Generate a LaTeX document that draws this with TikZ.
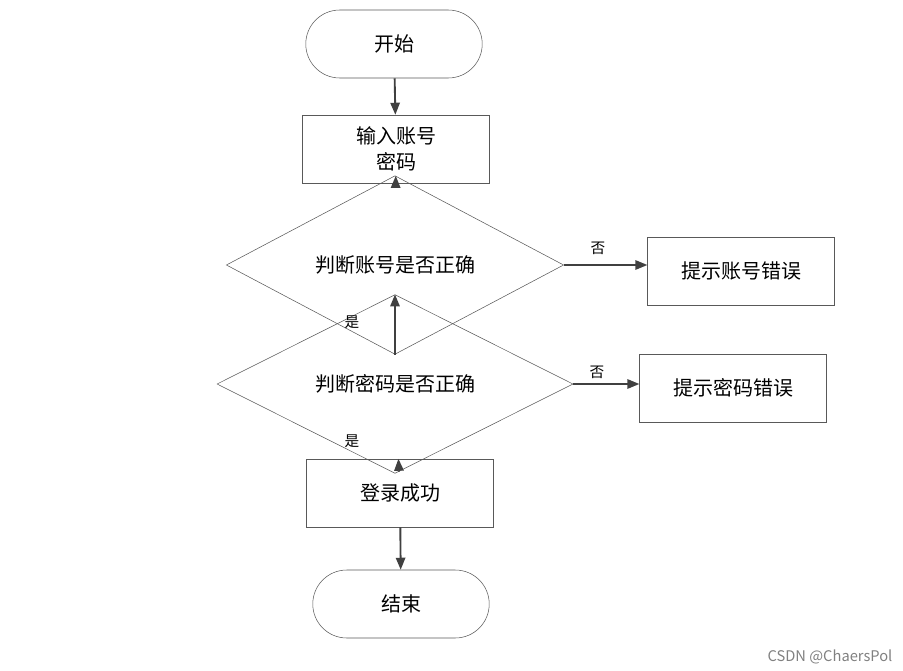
\documentclass[tikz,border=0pt]{standalone}
\usepackage{fontspec}
\setmainfont{Noto Sans CJK SC}
\usetikzlibrary{shapes.geometric,shapes.misc,arrows.meta}
\begin{document}
\begin{tikzpicture}[x=0.75pt,y=-0.75pt, font=\fontsize{15}{19}\selectfont,
  term/.style={rounded rectangle, draw=gray!70!black, minimum width=139pt, minimum height=51pt},
  proc/.style={rectangle, draw=gray!70!black, minimum width=140pt, minimum height=51pt, align=center},
  dec/.style={diamond, draw=gray!70!black, inner sep=0pt},
  a/.style={draw=black!75, line width=1.4pt, -{Triangle[length=9pt,width=7pt]}},
  lab/.style={font=\fontsize{11}{13}\selectfont}]
  \useasboundingbox (0,0) rectangle (903,671);
  \node[term] (start) at (394,44) {开始};
  \node[proc] (input) at (396,149) {输入账号\\密码};
  \node[dec, minimum width=253pt, minimum height=68pt] (d1) at (395,265) {判断账号是否正确};
  \node[proc] (err1) at (741,271) {提示账号错误};
  \node[dec, minimum width=267pt, minimum height=63pt] (d2) at (395,384) {判断密码是否正确};
  \node[proc] (err2) at (733,388) {提示密码错误};
  \node[proc] (ok) at (400,493) {登录成功};
  \node[term] (end) at (401,604) {结束};
  \node[lab] at (598,248) {否};
  \node[lab] at (597,372) {否};
  \node[lab] at (352,322) {是};
  \node[lab] at (352,441) {是};
  \node[font=\fontsize{11}{13}\selectfont, text=gray] at (830,657) {CSDN @ChaersPol};
  \draw[a] (start) -- (input);
  \draw[a] (input) -- (d1);
  \draw[a] (d1) -- (d2);
  \draw[a] (d2) -- (ok);
  \draw[a] (ok) -- (end);
  \draw[a] (d1.east) -- (d1.east -| err1.west);
  \draw[a] (d2.east) -- (d2.east -| err2.west);
\end{tikzpicture}
\end{document}
